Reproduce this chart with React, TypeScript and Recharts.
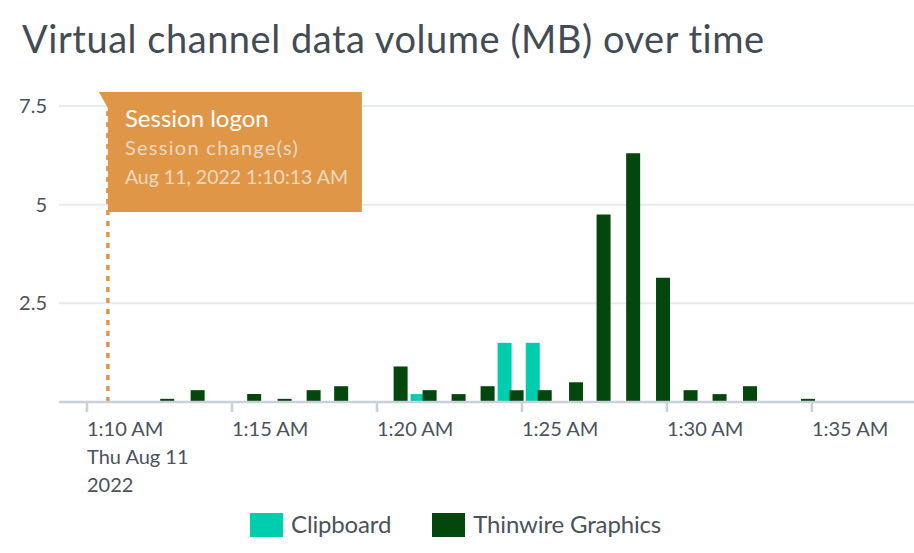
import { BarChart, Bar, XAxis, YAxis, CartesianGrid, ReferenceLine, Legend } from "recharts";

// minutes after 1:10 AM
const minutes = [2.55, 3.6, 5.55, 6.6, 7.6, 8.55, 10.6, 11.6, 12.6, 13.6, 14.6, 15.57, 16.65, 17.6, 18.62, 19.65, 20.6, 21.6, 22.65, 24.65];
const clipboard = [0, 0, 0, 0, 0, 0, 0, 0.2, 0, 0, 1.5, 1.5, 0, 0, 0, 0, 0, 0, 0, 0];
const thinwire = [0.08, 0.3, 0.2, 0.08, 0.3, 0.4, 0.9, 0.3, 0.2, 0.4, 0.3, 0.3, 0.5, 4.75, 6.3, 3.15, 0.3, 0.2, 0.4, 0.08];

const xTicks = [0, 5, 10, 15, 20, 25];
const xLabels = ["1:10 AM", "1:15 AM", "1:20 AM", "1:25 AM", "1:30 AM", "1:35 AM"];
const yTicks = [0, 2.5, 5, 7.5];
const logonMinute = 0.72;

const FONT = "Lato, sans-serif";
const TEXT = "#4a525c";
const ORANGE = "#e09647";

const chartData = minutes.map((m, i) => ({
  minute: m,
  Clipboard: clipboard[i],
  "Thinwire Graphics": thinwire[i],
}));

function TimeTick({ x, y, payload }: any) {
  const i = xTicks.indexOf(payload.value);
  return (
    <text x={x} y={y} fontFamily={FONT} fontSize={20} fill={TEXT}>
      <tspan x={x} dy={22}>{xLabels[i]}</tspan>
      {i === 0 && <tspan x={x} dy={28}>Thu Aug 11</tspan>}
      {i === 0 && <tspan x={x} dy={28}>2022</tspan>}
    </text>
  );
}

function LogonFlag({ viewBox }: any) {
  const x = viewBox.x;
  const y = viewBox.y;
  return (
    <g fontFamily={FONT}>
      <path d={`M${x - 9} ${y - 14} H${x + 254} V${y + 106} H${x} V${y + 2} Z`} fill={ORANGE} />
      <text x={x + 17} y={y + 21} fontSize={24} fill="#ffffff">Session logon</text>
      <text x={x + 17} y={y + 49} fontSize={20} letterSpacing={1.3} fill="#ecd9c3">Session change(s)</text>
      <text x={x + 17} y={y + 78} fontSize={19.5} fill="#ecd9c3">Aug 11, 2022 1:10:13 AM</text>
    </g>
  );
}

function LegendRow({ payload }: any) {
  return (
    <div style={{ display: "flex", fontFamily: FONT, fontSize: 24, color: TEXT }}>
      {(payload || []).map((p: any) => (
        <div key={p.value} style={{ display: "flex", alignItems: "center", marginRight: 41, letterSpacing: -0.15 }}>
          <span style={{ width: 33, height: 24, background: p.color, marginRight: 8 }} />
          <span style={{ position: "relative", top: -1 }}>{p.value}</span>
        </div>
      ))}
    </div>
  );
}

export default function App() {
  return (
    <div style={{ position: "absolute", left: 0, top: 0, width: 914, height: 553, overflow: "hidden", background: "#fff" }}>
      <div style={{ position: "absolute", left: 22, top: 15, fontFamily: FONT, fontSize: 38, color: "#434b55", whiteSpace: "nowrap", letterSpacing: 0.53 }}>
        Virtual channel data volume (MB) over time
      </div>
      <BarChart
        width={914}
        height={553}
        data={chartData}
        margin={{ top: 106, right: 0, bottom: 36, left: 0 }}
        barSize={14}
        barGap={-2}
      >
        <CartesianGrid horizontal vertical={false} stroke="#e6ebf0" strokeWidth={2} />
        <XAxis
          dataKey="minute"
          type="number"
          domain={[-0.966, 28.52]}
          allowDataOverflow
          ticks={xTicks}
          interval={0}
          height={91}
          tick={<TimeTick />}
          tickSize={10}
          stroke="#c8d0da"
          strokeWidth={2.5}
        />
        <YAxis
          width={59}
          domain={[0, 7.5]}
          ticks={yTicks}
          axisLine={false}
          tickLine={false}
          tickMargin={6}
          tickFormatter={(v: number) => (v === 0 ? "" : String(v))}
          tick={{ fontFamily: FONT, fontSize: 20, fill: TEXT }}
        />
        <Bar dataKey="Clipboard" fill="#00cdae" isAnimationActive={false} />
        <Bar dataKey="Thinwire Graphics" fill="#03470c" isAnimationActive={false} />
        <ReferenceLine
          x={logonMinute}
          stroke={ORANGE}
          strokeWidth={3.5}
          strokeDasharray="5 6"
          label={<LogonFlag />}
        />
        <Legend
          content={<LegendRow />}
          wrapperStyle={{ position: "absolute", left: 250, top: 510, width: 500, height: 24 }}
        />
      </BarChart>
    </div>
  );
}
